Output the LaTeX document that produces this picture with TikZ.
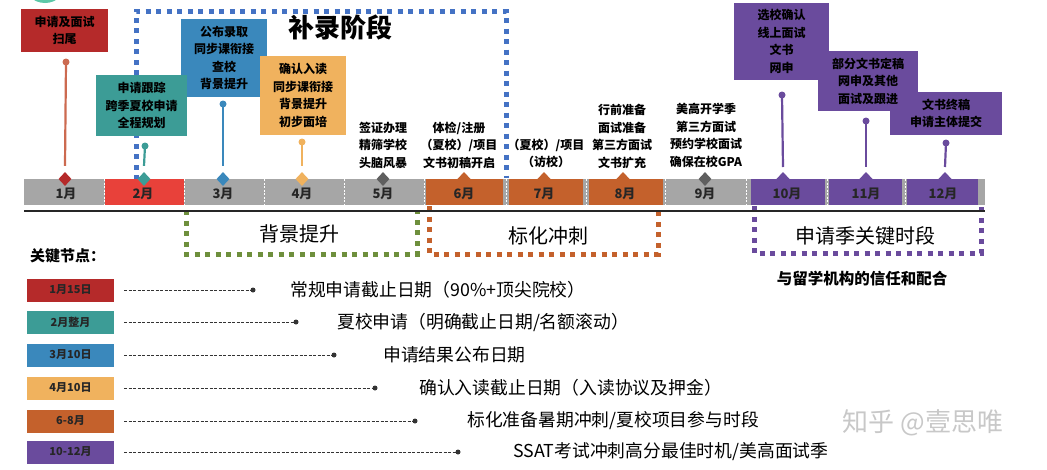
\documentclass[tikz,border=0pt]{standalone}
\usepackage{fontspec}
\setmainfont{Noto Sans CJK SC}
\usetikzlibrary{shapes.geometric}
\definecolor{cRed}{HTML}{B52A2A}
\definecolor{cTeal}{HTML}{3C9C96}
\definecolor{cBlue}{HTML}{3A88BC}
\definecolor{cYel}{HTML}{F0B25E}
\definecolor{cOra}{HTML}{C4612C}
\definecolor{cPur}{HTML}{6A4B9D}
\definecolor{mRed}{HTML}{E8413A}
\definecolor{barGray}{HTML}{A6A6A6}
\definecolor{dBlue}{HTML}{4472C4}
\definecolor{dGreen}{HTML}{6E8F3C}
\definecolor{pinRed}{HTML}{CC6A50}
\definecolor{dGray}{HTML}{5F5F5F}
\definecolor{mint}{HTML}{5CC8A8}
\definecolor{wm}{HTML}{C8C8C8}
\tikzset{
  callout/.style={fill=#1, text=black, font=\fontsize{12}{17.5}\selectfont\bfseries, align=center, inner sep=0pt},
  monthbox/.style={fill=#1, minimum height=26pt, inner sep=0pt},
  monthlbl/.style={font=\fontsize{13}{13}\selectfont\bfseries, text=black!85, inner sep=0pt},
  mdiam/.style={diamond, fill=#1, minimum width=13pt, minimum height=14pt, inner sep=0pt},
  pin/.style={circle, fill=#1, minimum size=7pt, inner sep=0pt},
  pinline/.style={draw=#1, line width=2.2pt},
  abovetxt/.style={font=\fontsize{12}{17.5}\selectfont\bfseries, align=center, inner sep=0pt},
  dotrect/.style={draw=#1, line width=5pt, dash pattern=on 5pt off 5.5pt},
  seclbl/.style={font=\fontsize{20}{20}\selectfont, inner sep=0pt},
  legbox/.style={fill=#1, minimum width=87pt, minimum height=23pt, inner sep=0pt, font=\fontsize{11}{11}\selectfont\bfseries, text=black!85},
  legline/.style={draw=black!80, line width=0.8pt, dash pattern=on 3pt off 1.5pt},
  legdot/.style={circle, fill=black!80, minimum size=5pt, inner sep=0pt},
  legtxt/.style={font=\fontsize{17.8}{17.8}\selectfont, anchor=west, inner sep=0pt},
  notch/.style={fill=#1}
}
\begin{document}
\begin{tikzpicture}[x=1pt,y=-1pt]
\useasboundingbox (0,0) rectangle (1047,469);
% partial circle at top left
\fill[mint] (45,-19) circle (22);
% blue dotted frame (补录阶段)
\draw[dotrect=dBlue] (136,180) -- (136,11) -- (506,11) -- (506,178);
\node[font=\fontsize{26}{26}\selectfont\bfseries, inner sep=0pt] (title) at (340,27) {补录阶段};

% month bar
\fill[barGray] (24,179) rectangle (985,205);
\foreach \x in {104,184,264,344,424,506,586,665,746,827,905}
  \draw[white, line width=0.6pt, dash pattern=on 2pt off 1.5pt] (\x,179) -- (\x,205);
\node[monthbox=mRed, minimum width=79pt] (b2) at (144.5,192) {};
\node[monthbox=cOra, minimum width=77pt] (b6) at (464.5,192) {};
\node[monthbox=cOra, minimum width=74pt] (b7) at (546,192) {};
\node[monthbox=cOra, minimum width=74pt] (b8) at (626,192) {};
\node[monthbox=cPur, minimum width=74pt] (b10) at (788,192) {};
\node[monthbox=cPur, minimum width=73pt] (b11) at (865.5,192) {};
\node[monthbox=cPur, minimum width=71pt] (b12) at (942.5,192) {};
% notches
\foreach \x/\c in {464/cOra,544/cOra,623/cOra,783/cPur,866/cPur,945/cPur}
  \fill[\c] (\x-7,179.5) -- (\x,172) -- (\x+7,179.5) -- cycle;
% month labels
\node[monthlbl] (m1) at (66,194) {1月};
\node[monthlbl] (m2) at (143,194) {2月};
\node[monthlbl] (m3) at (223,194) {3月};
\node[monthlbl] (m4) at (302,194) {4月};
\node[monthlbl] (m5) at (383,194) {5月};
\node[monthlbl] (m6) at (464,194) {6月};
\node[monthlbl] (m7) at (544,194) {7月};
\node[monthlbl] (m8) at (625,194) {8月};
\node[monthlbl] (m9) at (705,194) {9月};
\node[monthlbl] (m10) at (787,194) {10月};
\node[monthlbl] (m11) at (866,194) {11月};
\node[monthlbl] (m12) at (943,194) {12月};
% diamonds
\node[mdiam=cRed] (d1) at (65,179) {};
\node[mdiam=cTeal] (d2) at (144,179) {};
\node[mdiam=cBlue] (d3) at (223,179) {};
\node[mdiam=cYel] (d4) at (302,179) {};
\node[mdiam=dGray] (d5) at (383,179) {};
\node[mdiam=dGray] (d9) at (705,179) {};
\coordinate (n10) at (783,172);
\coordinate (n11) at (866,172);
\coordinate (n12) at (945,172);

% callout boxes
\node[callout=cRed, minimum width=87pt, minimum height=43pt] (c1) at (64.5,30.5) {申请及面试\\扫尾};
\node[callout=cBlue, minimum width=86pt, minimum height=78pt] (c3) at (224,58) {公布录取\\同步课衔接\\查校\\背景提升};
\node[callout=cTeal, minimum width=91pt, minimum height=61pt] (c2) at (141.5,105.5) {申请跟踪\\跨季夏校申请\\全程规划};
\node[callout=cYel, minimum width=86pt, minimum height=79pt] (c4) at (303,95.5) {确认入读\\同步课衔接\\背景提升\\初步面培};
\node[callout=cPur, minimum width=112pt, minimum height=43pt] (c12) at (946,113.5) {文书终稿\\申请主体提交};
\node[callout=cPur, minimum width=100pt, minimum height=60pt] (c11) at (868,81) {部分文书定稿\\网申及其他\\面试及跟进};
\node[callout=cPur, minimum width=95pt, minimum height=77pt] (c10) at (781.5,41.5) {选校确认\\线上面试\\文书\\网申};

% pins
\node[pin=pinRed] (p1) at (66,62) {};
\node[pin=cTeal] (p2) at (145,146) {};
\node[pin=cBlue] (p3) at (223,104) {};
\node[pin=cYel] (p4) at (302,142) {};
\node[pin=cPur] (p10) at (782,95) {};
\node[pin=cPur] (p11) at (866,121) {};
\node[pin=cPur] (p12) at (946,143) {};
\draw[pinline=pinRed] (p1.center) -- ([yshift=6pt]d1.north);
\draw[pinline=cTeal] (p2.center) -- ([yshift=6pt]d2.north);
\draw[pinline=cBlue] (p3.center) -- ([yshift=6pt]d3.north);
\draw[pinline=cYel] (p4.center) -- ([yshift=6pt]d4.north);
\draw[pinline=cPur] (p10.center) -- ([yshift=5pt]n10);
\draw[pinline=cPur] (p11.center) -- ([yshift=5pt]n11);
\draw[pinline=cPur] (p12.center) -- ([yshift=5pt]n12);

% texts above bar
\node[abovetxt] (t5) at (383,145) {签证办理\\精筛学校\\头脑风暴};
\node[abovetxt] (t6) at (459,145) {体检/注册\\（夏校）/项目\\文书初稿开启};
\node[abovetxt] (t7) at (546,153.5) {（夏校）/项目\\（访校）};
\node[abovetxt] (t8) at (622,136.5) {行前准备\\面试准备\\第三方面试\\文书扩充};
\node[abovetxt] (t9) at (706,135.5) {美高开学季\\第三方面试\\预约学校面试\\确保在校GPA};

% lower dotted frames
\draw[dotrect=dGreen] (186,210) -- (186,254) -- (417,254) -- (417,210);
\draw[dotrect=cOra] (429,206) -- (429,254) -- (658,254) -- (658,206);
\draw[dotrect=cPur] (754,206) -- (754,253) -- (981,253) -- (981,206);
\draw[black!85, line width=1.2pt] (24,211) -- (985,211);
\node[seclbl] (s1) at (299,234) {背景提升};
\node[seclbl] (s2) at (548,236) {标化冲刺};
\node[seclbl] (s3) at (865,236) {申请季关键时段};
\node[font=\fontsize{15.5}{15.5}\selectfont\bfseries, inner sep=0pt] (s3b) at (862,279) {与留学机构的信任和配合};

% key nodes legend
\node[font=\fontsize{15}{15}\selectfont\bfseries, anchor=west, inner sep=0pt] (kh) at (30,256) {关键节点：};
\node[legbox=cRed] (l1) at (70.5,290) {1月15日};
\node[legbox=cTeal] (l2) at (70.5,322) {2月整月};
\node[legbox=cBlue] (l3) at (70.5,355) {3月10日};
\node[legbox=cYel] (l4) at (70.5,388) {4月10日};
\node[legbox=cOra] (l5) at (70.5,421) {6-8月};
\node[legbox=cPur] (l6) at (70.5,452) {10-12月};
\node[legdot] (e1) at (253,290) {};
\node[legdot] (e2) at (296,322) {};
\node[legdot] (e3) at (334,355) {};
\node[legdot] (e4) at (375,388) {};
\node[legdot] (e5) at (415,421) {};
\node[legdot] (e6) at (458,452) {};
\foreach \i in {1,...,6}
  \draw[legline] ([xshift=10pt]l\i.east) -- (e\i.center);
\node[legtxt] (x1) at (290,290) {常规申请截止日期（90\%+顶尖院校）};
\node[legtxt] (x2) at (337,322) {夏校申请（明确截止日期/名额滚动）};
\node[legtxt] (x3) at (383,355) {申请结果公布日期};
\node[legtxt] (x4) at (419,388) {确认入读截止日期（入读协议及押金）};
\node[legtxt] (x5) at (467,421) {标化准备暑期冲刺/夏校项目参与时段};
\node[legtxt] (x6) at (513,452) {SSAT考试冲刺高分最佳时机/美高面试季};
\node[font=\fontsize{26}{26}\selectfont, text=wm, inner sep=0pt] (wmk) at (923,423) {知乎 @壹思唯};
\end{tikzpicture}
\end{document}
